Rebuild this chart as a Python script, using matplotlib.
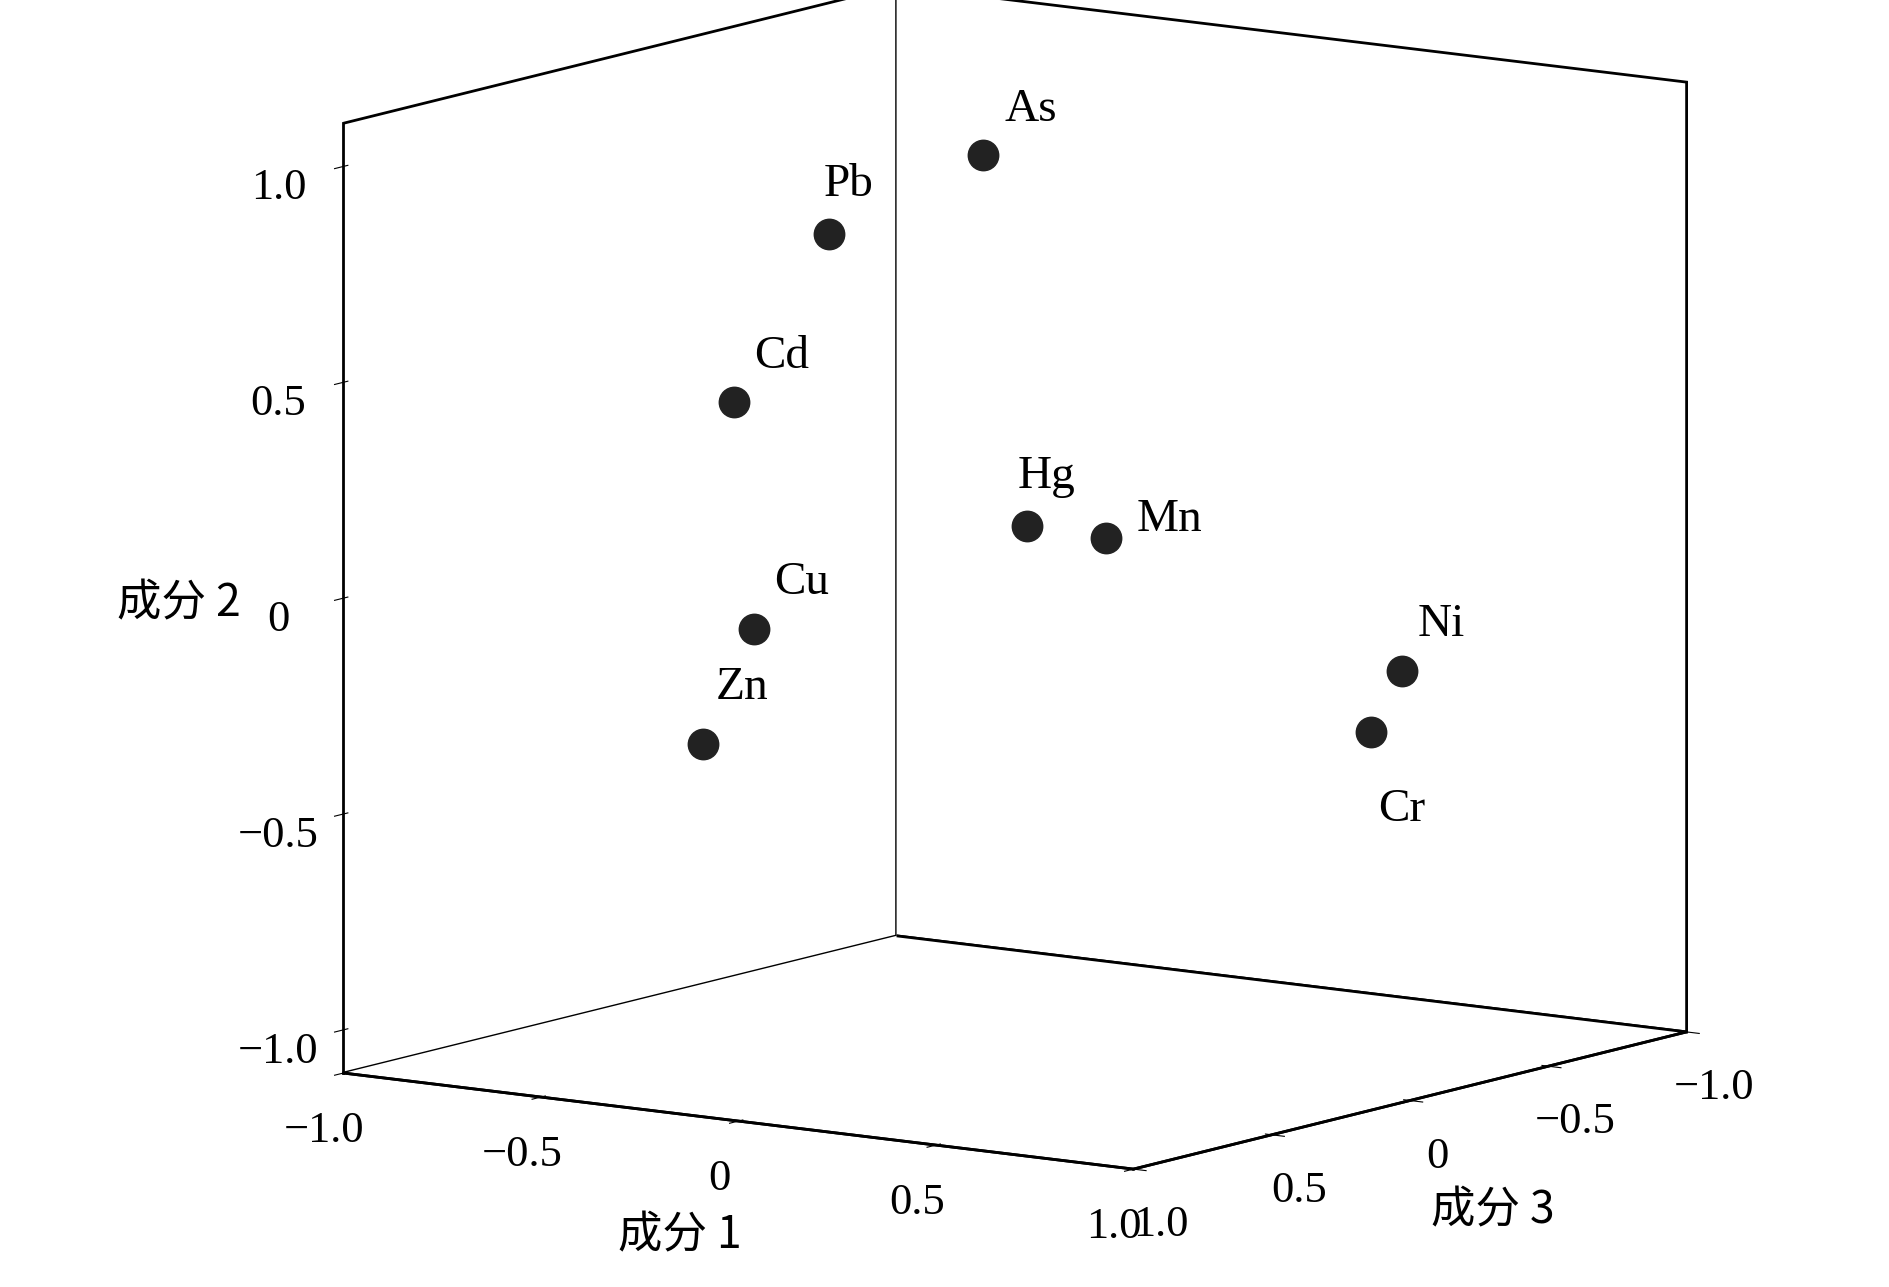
import matplotlib.pyplot as plt
import numpy as np

plt.rcParams['font.family'] = ['Liberation Serif', 'Noto Sans CJK SC']
plt.rcParams['axes.unicode_minus'] = True

# element loadings on the three components
elements = ['Zn', 'Cu', 'Cd', 'Pb', 'As', 'Hg', 'Mn', 'Ni', 'Cr']
comp1 = [-0.16, -0.03, -0.08, 0.02, 0.13, 0.17, 0.30, 0.56, 0.48]
comp3 = [0.90, 0.90, 0.90, 0.70, 0.30, 0.20, 0.10, -0.60, -0.60]
comp2 = [-0.26, 0.02, 0.54, 0.91, 1.04, 0.17, 0.14, -0.25, -0.40]
ticks = [-1.0, -0.5, 0, 0.5, 1.0]
tick_labels = ['\u22121.0', '\u22120.5', '0', '0.5', '1.0']

fig = plt.figure(figsize=(18.9, 12.87), dpi=100)
ax = fig.add_axes([-0.034, -0.065, 1.12, 1.2], projection='3d')
ax.set_proj_type('ortho')
ax.view_init(elev=10, azim=-55)

# comp3 runs the other way round, so plot it negated
y = -np.array(comp3)
ax.scatter(comp1, y, comp2, s=480, c='#222222', depthshade=False, alpha=1)

offs = {'Zn': (0.1, 0.14), 'Cu': (0.12, 0.12), 'Cd': (0.12, 0.12), 'Pb': (0.05, 0.12),
        'As': (0.12, 0.12), 'Hg': (0.05, 0.12), 'Mn': (0.16, 0.06), 'Ni': (0.1, 0.12),
        'Cr': (0.08, -0.17)}
for name, a, b, c in zip(elements, comp1, y, comp2):
    dx, dz = offs[name]
    ax.text(a + dx, b, c + dz, name, fontsize=34, ha='center', va='center')

ax.set_xlim(-1, 1)
ax.set_ylim(-1, 1)
ax.set_zlim(-1.1, 1.1)
ax.set_box_aspect((1, 1, 1.0), zoom=1.05)

ax.set_xticks(ticks)
ax.set_xticklabels(tick_labels)
ax.set_yticks(ticks)
ax.set_yticklabels(tick_labels[::-1])
ax.set_zticks(ticks)
ax.set_zticklabels(tick_labels)
ax.tick_params(labelsize=32)
ax.tick_params(axis='x', pad=12)
ax.tick_params(axis='y', pad=12)
ax.tick_params(axis='z', pad=20)

ax.zaxis.set_ticks_position('lower')
ax.zaxis.set_label_position('lower')

ax.set_xlabel('成分 1', fontsize=32, family=['Noto Sans CJK SC'], labelpad=40)
ax.set_ylabel('成分 3', fontsize=32, family=['Noto Sans CJK SC'], labelpad=40)
ax.set_zlabel('成分 2', fontsize=32, family=['Noto Sans CJK SC'], labelpad=50)

ax.grid(False)
for axis in (ax.xaxis, ax.yaxis, ax.zaxis):
    axis.pane.set_facecolor((1, 1, 1, 1))
    axis.pane.set_edgecolor((0, 0, 0, 1))
    axis.pane.set_alpha(1)
    axis.pane.set_linewidth(2)
    axis.line.set_color('black')
    axis.line.set_linewidth(2)

fig.savefig('out.png', dpi=100)
